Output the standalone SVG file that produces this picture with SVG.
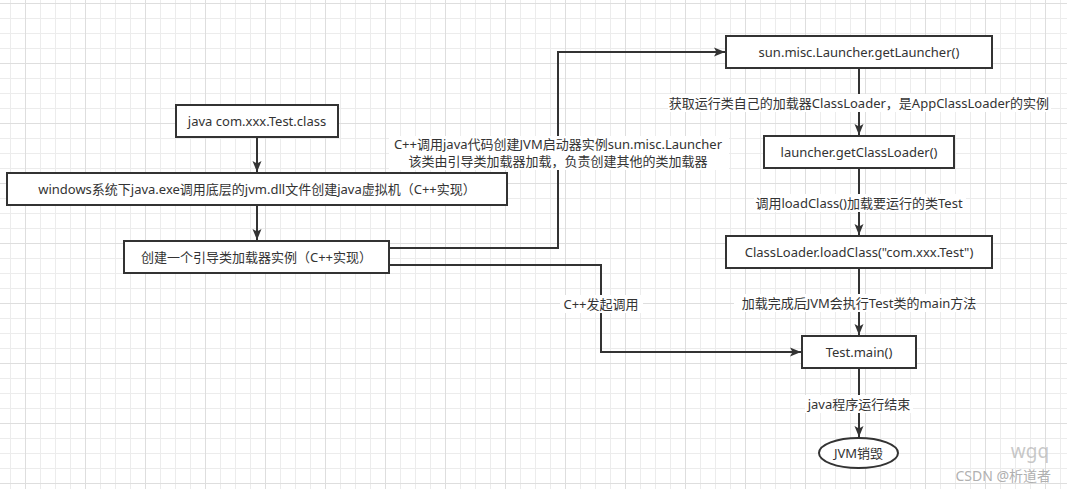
<svg xmlns="http://www.w3.org/2000/svg" width="1067" height="489" viewBox="0 0 1067 489">
<style>
.node rect, .node ellipse { fill: #ffffff; stroke: #333333; stroke-width: 2; }
.t { font-family: "Noto Sans", "Noto Sans CJK SC", sans-serif; font-size: 13px; fill: #333333; text-anchor: middle; dominant-baseline: central; }
.conn path { fill: none; stroke: #333333; stroke-width: 2; }
.conn .arr { marker-end: url(#ah); }
.lbg { fill: #ffffff; stroke: none; }
.wm { font-family: "Noto Sans", "Noto Sans CJK SC", sans-serif; fill: #b0b0b0; }
</style>
<defs>
<pattern id="minor" width="15" height="15" patternUnits="userSpaceOnUse" x="10" y="3">
<path d="M0.5,0 V15 M0,0.5 H15" stroke="#ececec" stroke-width="1" fill="none"/>
</pattern>
<pattern id="major" width="60" height="60" patternUnits="userSpaceOnUse" x="25" y="3">
<path d="M0.5,0 V60 M0,0.5 H60" stroke="#dedede" stroke-width="1" fill="none"/>
</pattern>
<marker id="ah" markerWidth="12" markerHeight="10" refX="11" refY="5" orient="auto" markerUnits="userSpaceOnUse">
<path d="M0,0.5 L11,5 L0,9.5 L2.5,5 Z" fill="#333333" stroke="none"/>
</marker>
</defs>
<rect width="1067" height="489" fill="#ffffff"/>
<rect width="1067" height="489" fill="url(#minor)"/>
<rect width="1067" height="489" fill="url(#major)"/>

<g id="connectors" class="conn">
<path class="arr" d="M257,137 L257,172"/>
<path class="arr" d="M257,205 L257,240"/>
<path class="arr" d="M389,248 L558,248 L558,52 L725,52"/>
<path class="arr" d="M389,265 L601,265 L601,352 L801,352"/>
<path class="arr" d="M859,68 L859,135"/>
<path class="arr" d="M859,168 L859,235"/>
<path class="arr" d="M859,268 L859,335"/>
<path class="arr" d="M859,368 L859,437"/>
<g id="labels">
<rect class="lbg" x="389" y="136" width="340" height="34"/>
<text class="t" x="558" y="144">C++调用java代码创建JVM启动器实例sun.misc.Launcher</text>
<text class="t" x="558" y="161">该类由引导类加载器加载，负责创建其他的类加载器</text>
<rect class="lbg" x="668" y="94" width="383" height="18"/>
<text class="t" x="859" y="103">获取运行类自己的加载器ClassLoader，是AppClassLoader的实例</text>
<rect class="lbg" x="754" y="194" width="212" height="18"/>
<text class="t" x="859" y="203">调用loadClass()加载要运行的类Test</text>
<rect class="lbg" x="734" y="294" width="234" height="18"/>
<text class="t" x="859" y="303">加载完成后JVM会执行Test类的main方法</text>
<rect class="lbg" x="805" y="395" width="108" height="18"/>
<text class="t" x="859" y="404">java程序运行结束</text>
<rect class="lbg" x="560" y="295" width="83" height="18"/>
<text class="t" x="601" y="304">C++发起调用</text>
</g>
</g>

<g id="n1" class="node"><rect x="176" y="105" width="162" height="32"/><text class="t" x="257" y="121">java com.xxx.Test.class</text></g>
<g id="n2" class="node"><rect x="7" y="173" width="500" height="32"/><text class="t" x="257" y="189">windows系统下java.exe调用底层的jvm.dll文件创建java虚拟机（C++实现）</text></g>
<g id="n3" class="node"><rect x="124" y="241" width="265" height="32"/><text class="t" x="256.5" y="257">创建一个引导类加载器实例（C++实现）</text></g>
<g id="n4" class="node"><rect x="726" y="36" width="266" height="32"/><text class="t" x="859" y="52">sun.misc.Launcher.getLauncher()</text></g>
<g id="n5" class="node"><rect x="764" y="136" width="190" height="32"/><text class="t" x="859" y="152">launcher.getClassLoader()</text></g>
<g id="n6" class="node"><rect x="726" y="236" width="266" height="32"/><text class="t" x="859" y="252">ClassLoader.loadClass("com.xxx.Test")</text></g>
<g id="n7" class="node"><rect x="802" y="336" width="114" height="32"/><text class="t" x="859" y="352">Test.main()</text></g>
<g id="n8" class="node"><ellipse cx="858.5" cy="453" rx="39.5" ry="15"/><text class="t" x="858.5" y="453">JVM销毁</text></g>

<g id="watermark">
<text class="wm" x="1030" y="458" font-size="19" text-anchor="middle" fill-opacity="0.7">wgq</text>
<text class="wm" x="1051" y="475" font-size="14" text-anchor="end" dominant-baseline="central">CSDN @析道者</text>
</g>
</svg>
